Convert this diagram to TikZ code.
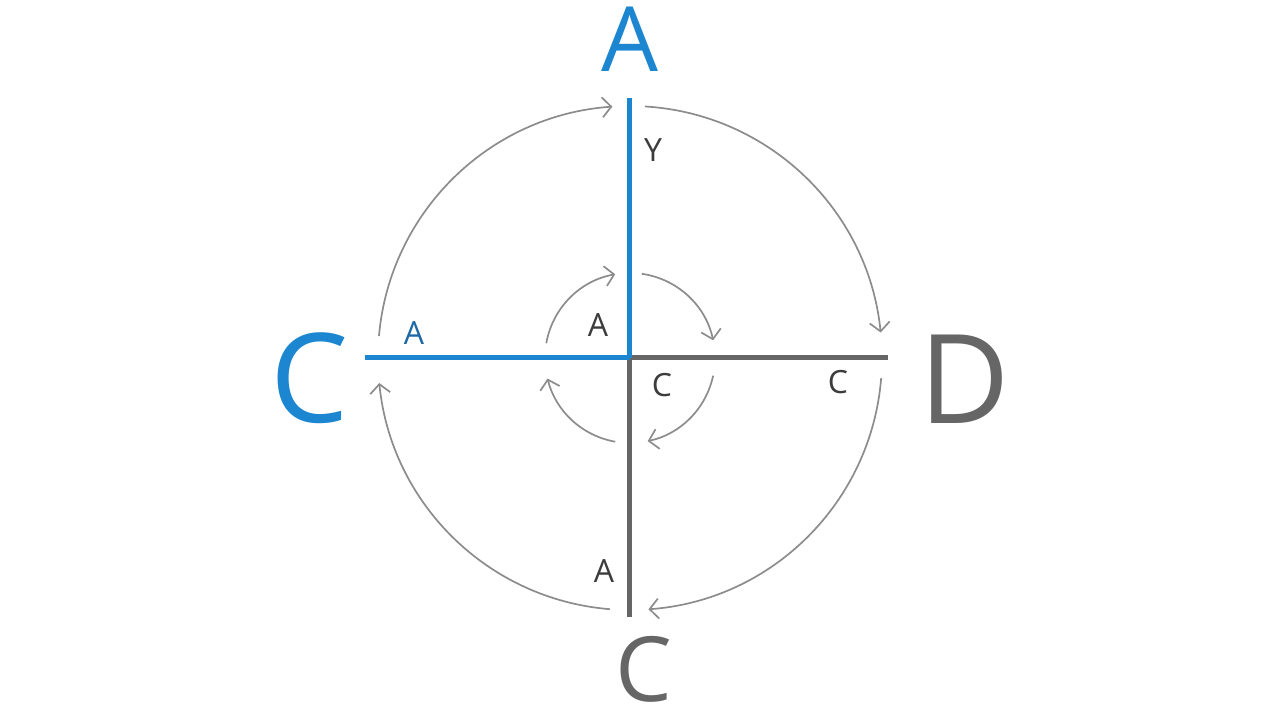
\documentclass[tikz,border=0pt]{standalone}
\usepackage{fontspec}
\setmainfont{Open Sans}
\usetikzlibrary{arrows.meta}
\definecolor{axisblue}{RGB}{28,134,208}
\definecolor{axisgray}{RGB}{102,102,102}
\definecolor{cyclegray}{RGB}{140,140,140}
\definecolor{labelgray}{RGB}{60,60,60}
\definecolor{labelblue}{RGB}{30,105,165}
\tikzstyle{bluearm}=[axisblue,line width=5pt]
\tikzstyle{grayarm}=[axisgray,line width=5pt]
\tikzstyle{cyclearrow}=[cyclegray,line width=1.7pt,-{Straight Barb[length=9pt,width=20pt]}]
\tikzstyle{bigletter}=[inner sep=0pt,anchor=base]
\tikzstyle{smallletter}=[inner sep=0pt,anchor=base,text=labelgray,font=\fontsize{32}{32}\selectfont]
\pgfmathsetmacro{\outerradius}{252}
\pgfmathsetmacro{\innerradius}{85}
\def\cyclearc(#1:#2:#3)% Syntax: (start angle:end angle:radius), arc round the hub
    { \draw[cyclearrow] (#1:#3) arc (#1:#2:#3); }

\begin{document}
\begin{tikzpicture}[x=1pt,y=1pt]
  \useasboundingbox (-630,-362) rectangle (650,358);
  % the four arms
  \coordinate (hub) at (0,0);
  \coordinate (north) at (0,260);
  \coordinate (south) at (0,-259);
  \coordinate (west) at (-265,0);
  \coordinate (east) at (258,0);
  \draw[grayarm] (hub) -- (east);
  \draw[grayarm] (hub) -- (south);
  \draw[bluearm] (west) -- (hub);
  \draw[bluearm] (north) -- (hub);
  % outer cycle, clockwise
  \cyclearc(175:94:\outerradius)
  \cyclearc(86.6:5.8:\outerradius)
  \cyclearc(-4.6:-85.8:\outerradius)
  \cyclearc(-94.6:-174.3:\outerradius)
  % inner cycle, clockwise
  \cyclearc(170:100:\innerradius)
  \cyclearc(82:12:\innerradius)
  \cyclearc(-12:-78:\innerradius)
  \cyclearc(-100:-166:\innerradius)
  % big names at the ends
  \node[bigletter,text=axisblue,font=\fontsize{90}{90}\selectfont] (northname) at (0,286) {A};
  \node[bigletter,text=axisblue,font=\fontsize{124}{124}\selectfont] (westname) at (-320,-64) {C};
  \node[bigletter,text=axisgray,font=\fontsize{124}{124}\selectfont] (eastname) at (335,-65) {D};
  \node[bigletter,text=axisgray,font=\fontsize{90}{90}\selectfont] (southname) at (14,-343) {C};
  % small labels on the arms
  \node[smallletter] (northtag) at (23,196) {Y};
  \node[smallletter,text=labelblue] (westtag) at (-216,13) {A};
  \node[smallletter] (hubtag) at (-32,21) {A};
  \node[smallletter] (hubtagc) at (32,-38) {C};
  \node[smallletter] (easttag) at (208,-35) {C};
  \node[smallletter] (southtag) at (-26,-224) {A};
\end{tikzpicture}
\end{document}
